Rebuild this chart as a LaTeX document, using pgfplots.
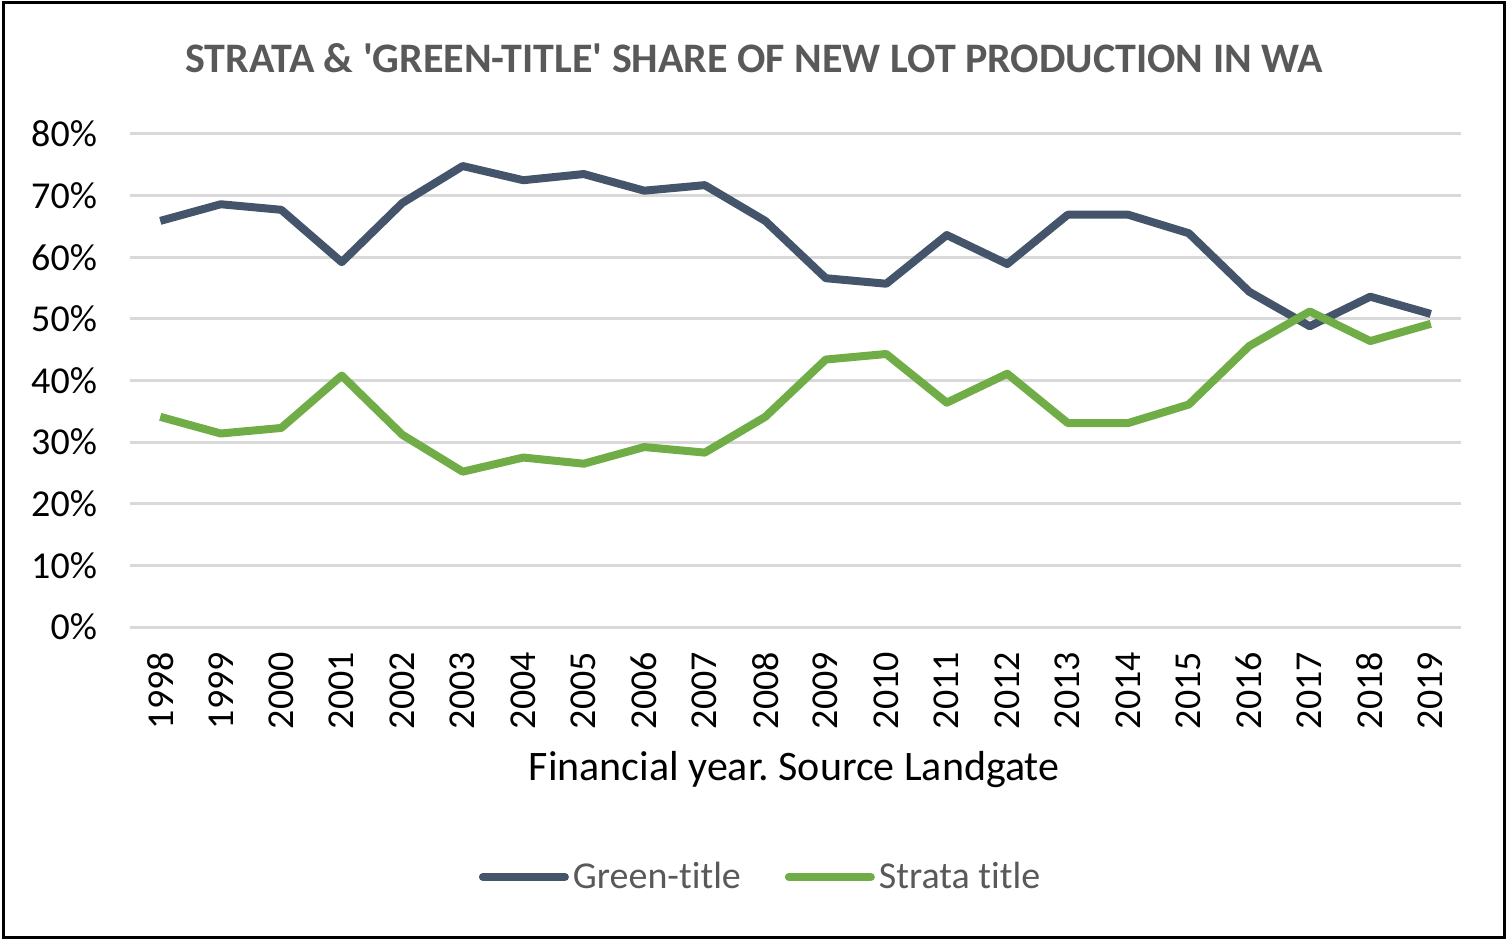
\documentclass[border=0pt]{standalone}
\usepackage{fontspec}
\setmainfont{Carlito}[Ligatures=NoCommon]
% family without TeX quote mapping, so ' stays a straight apostrophe
\newfontfamily\plainfont{Carlito}[Ligatures=NoCommon]
\usepackage{pgfplots}
\pgfplotsset{compat=1.18}
\frenchspacing

\definecolor{greentitle}{HTML}{44546A}
\definecolor{stratatitle}{HTML}{70AD47}
\definecolor{gridgray}{HTML}{D9D9D9}
\definecolor{textgray}{HTML}{595959}

\begin{document}
\begin{tikzpicture}
% outer chart frame
\path[use as bounding box] (0pt,0pt) rectangle (753.5pt,470.5pt);
\draw[line width=1.5pt] (1.75pt,1.75pt) rectangle (752pt,469.25pt);
\begin{axis}[
  at={(65pt,157pt)}, anchor=south west,
  scale only axis,
  width=665.5pt, height=246.5pt,
  xmin=1997.5, xmax=2019.5,
  ymin=0, ymax=0.8,
  xtick={1998,...,2019},
  ytick={0,0.1,...,0.8},
  yticklabel={\pgfmathparse{100*\tick}\pgfmathprintnumber[fixed,precision=0]{\pgfmathresult}\%},
  /pgf/number format/assume math mode=true,
  xticklabel style={rotate=90, anchor=east, font=\fontsize{19}{22}\selectfont, /pgf/number format/1000 sep={}},
  yticklabel style={font=\fontsize{19}{22}\selectfont},
  major tick length=0pt,
  xticklabel shift=9pt,
  yticklabel shift=13pt,
  axis line style={draw=none},
  ymajorgrids,
  grid style={gridgray, line width=1.5pt},
  xlabel={Financial year. Source Landgate},
  xlabel style={at={(axis description cs:0.499,-0.290)}, anchor=center, font=\fontsize{21}{25}\selectfont},
  title={STRATA \& 'GREEN-TITLE' SHARE OF NEW LOT PRODUCTION IN WA},
  title style={at={(axis description cs:0.469,1.130)}, anchor=center, font=\fontsize{21}{25}\plainfont\bfseries, text=textgray},
  legend columns=2,
  legend style={at={(axis description cs:0.4745,-0.507)}, anchor=center, draw=none, fill=none,
    font=\fontsize{19}{22}\selectfont, text=textgray,
    /tikz/every even column/.append style={column sep=20pt}},
  legend image code/.code={\draw[#1, line cap=round] (0pt,0pt) -- (41pt,0pt);},
  every axis plot/.append style={line width=4pt, line join=round, mark=none},
]
\addplot[greentitle] coordinates {
  (1998,0.659) (1999,0.686) (2000,0.677) (2001,0.592) (2002,0.688)
  (2003,0.748) (2004,0.725) (2005,0.735) (2006,0.708) (2007,0.717)
  (2008,0.659) (2009,0.566) (2010,0.557) (2011,0.636) (2012,0.589)
  (2013,0.669) (2014,0.669) (2015,0.639) (2016,0.544) (2017,0.488)
  (2018,0.536) (2019,0.508)
};
\addlegendentry{Green-title}
\addplot[stratatitle] coordinates {
  (1998,0.341) (1999,0.314) (2000,0.323) (2001,0.408) (2002,0.312)
  (2003,0.252) (2004,0.275) (2005,0.265) (2006,0.292) (2007,0.283)
  (2008,0.341) (2009,0.434) (2010,0.443) (2011,0.364) (2012,0.411)
  (2013,0.331) (2014,0.331) (2015,0.361) (2016,0.456) (2017,0.512)
  (2018,0.464) (2019,0.492)
};
\addlegendentry{Strata title}
\end{axis}
\end{tikzpicture}
\end{document}
